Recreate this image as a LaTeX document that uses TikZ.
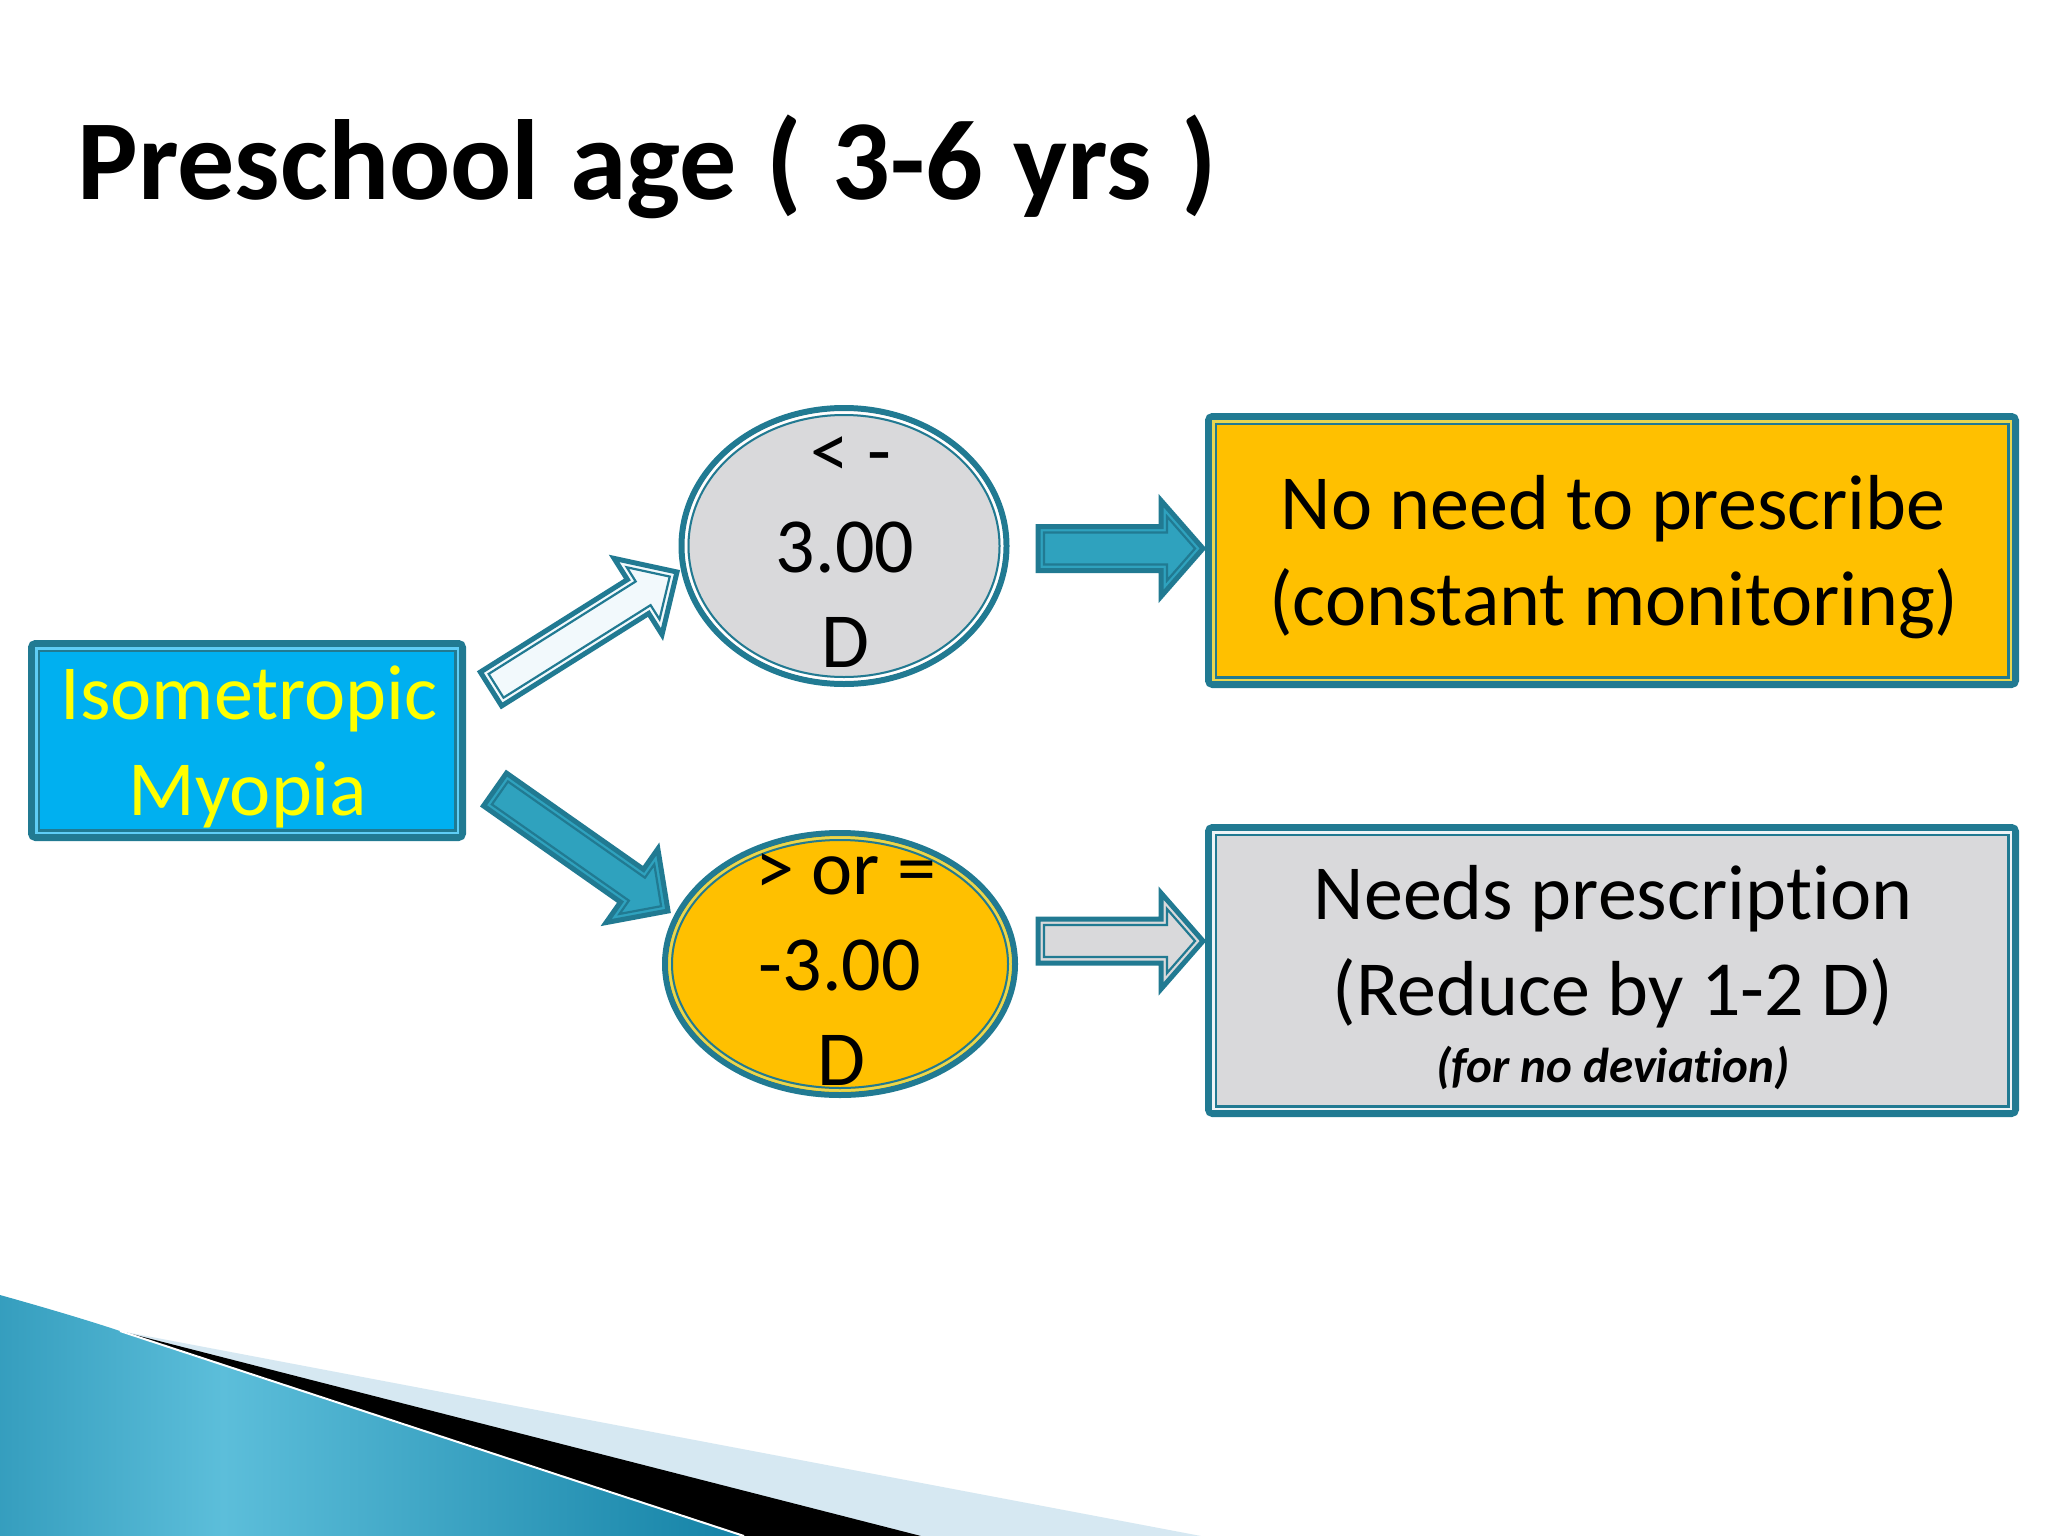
\documentclass[tikz,border=0pt]{standalone}
\usepackage{fontspec}
\setmainfont{Carlito}[Ligatures=NoCommon,RawFeature={-liga;-clig;-calt;-dlig}]
\newfontfamily\titlefam{Carlito}[Ligatures=NoCommon,WordSpace=1.17]
\usetikzlibrary{calc,shapes.geometric}
\definecolor{bordc}{RGB}{33,122,146}
\definecolor{arrowfill}{RGB}{47,162,190}
\definecolor{arrwhite}{RGB}{242,249,252}
\definecolor{cyanbox}{RGB}{0,176,240}
\definecolor{cyanlight}{RGB}{95,205,245}
\definecolor{goldbox}{RGB}{255,192,0}
\definecolor{goldlight}{RGB}{232,214,80}
\definecolor{graybox}{RGB}{217,217,219}
\definecolor{graylight}{RGB}{238,244,247}
\definecolor{yellowtxt}{RGB}{255,255,0}
\definecolor{bandlight}{RGB}{214,232,242}
\definecolor{swdark}{RGB}{8,100,132}
\definecolor{swlight}{RGB}{92,190,218}
\definecolor{swmid}{RGB}{20,130,166}
\pgfdeclarehorizontalshading{swoosh}{100bp}{color(0bp)=(swdark); color(12bp)=(swmid); color(40bp)=(swlight); color(75bp)=(swmid); color(100bp)=(swmid)}
\newcommand\bodyfont{\fontsize{78}{94}\selectfont}
\newcommand\titlefont{\titlefam\fontsize{114}{137}\selectfont\bfseries}
\newcommand\notefont{\fontsize{49}{59}\selectfont\bfseries\itshape}
\tikzset{
  bx/.style={draw=bordc, line width=7pt, rounded corners=4pt, inner sep=0pt, outer sep=0pt},
  ov/.style={ellipse, draw=bordc, line width=6pt, inner sep=0pt, outer sep=0pt},
  ln/.style={anchor=base, inner sep=0pt, outer sep=0pt, font=\bodyfont},
  arrb/.style={draw=bordc, line width=5pt, line join=miter},
  arri/.style={draw=bordc, line width=2.2pt, line join=miter},
}
\newcommand\boxlines[2]{%
  \draw[#2, line width=2.5pt] ([shift={(4.75,4.75)}]#1.north west) rectangle ([shift={(-4.75,-4.75)}]#1.south east);
  \draw[bordc, line width=2.5pt] ([shift={(7.25,7.25)}]#1.north west) rectangle ([shift={(-7.25,-7.25)}]#1.south east);
}
\newcommand\blockarrow[7]{%
  \pgfmathsetmacro\bL{sqrt((#5)*(#5)+(#4)*(#4))}%
  \pgfmathsetmacro\btb{6*\bL/(#4)}%
  \pgfmathsetmacro\bhi{(#4)-(#4)*6/(#5)-6*\bL/(#5)}%
  \pgfmathsetmacro\bwi{(#3)-6}%
  \coordinate (#7B) at ($(#2)!#5pt!(#1)$);
  \coordinate (#7Bi) at ($(#7B)!6pt!(#2)$);
  \coordinate (#7si) at ($(#1)!6pt!(#2)$);
  \coordinate (#7ei) at ($(#2)!\btb pt!(#1)$);
  \filldraw[arrb, fill=#6] ($(#1)!#3pt!90:(#2)$) -- ($(#7B)!#3pt!90:(#2)$) -- ($(#7B)!#4pt!90:(#2)$) -- (#2) -- ($(#7B)!#4pt!-90:(#2)$) -- ($(#7B)!#3pt!-90:(#2)$) -- ($(#1)!#3pt!-90:(#2)$) -- cycle;
  \draw[arri] ($(#7si)!\bwi pt!90:(#2)$) -- ($(#7Bi)!\bwi pt!90:(#2)$) -- ($(#7Bi)!\bhi pt!90:(#2)$) -- (#7ei) -- ($(#7Bi)!\bhi pt!-90:(#2)$) -- ($(#7Bi)!\bwi pt!-90:(#2)$) -- ($(#7si)!\bwi pt!-90:(#2)$) -- cycle;
}
\begin{document}
\begin{tikzpicture}[x=1pt,y=-1pt]
\useasboundingbox[fill=white] (0,0) rectangle (2048,1536);

% bottom-left swoosh
\fill[bandlight] (120,1331) -- (1201,1536) -- (0,1536) -- cycle;
\fill[black] (120,1331) -- (921,1536) -- (0,1536) -- cycle;
\shade[shading=swoosh] (0,1295) .. controls (50,1309) and (90,1321) .. (120,1331) -- (744,1536) -- (0,1536) -- cycle;
\draw[white, line width=2pt] (120,1331) -- (744,1536);

% title
\node[anchor=base west, inner sep=0pt, font=\titlefont] (title) at (77.5,199) {Preschool age ( 3-6 yrs )};

% boxes
\node[bx, fill=cyanbox, minimum width=431pt, minimum height=194pt] (iso) at (247,740.5) {};
\boxlines{iso}{cyanlight}
\node[bx, fill=goldbox, minimum width=807pt, minimum height=268pt] (nop) at (1612,550.5) {};
\boxlines{nop}{goldlight}
\node[bx, fill=graybox, minimum width=807pt, minimum height=286pt] (need) at (1612,970.5) {};
\boxlines{need}{graylight}

% ellipses
\node[ov, fill=graybox, minimum width=325pt, minimum height=276pt] (lt) at (844,546) {};
\draw[white, line width=2.5pt] (lt.center) ellipse [x radius=158pt, y radius=133.5pt];
\draw[bordc, line width=2pt] (lt.center) ellipse [x radius=155.5pt, y radius=131pt];
\node[ov, fill=goldbox, minimum width=350pt, minimum height=262pt] (ge) at (840,964) {};
\draw[goldlight, line width=2.5pt] (ge.center) ellipse [x radius=170.5pt, y radius=126.5pt];
\draw[bordc, line width=2pt] (ge.center) ellipse [x radius=168pt, y radius=124pt];

% block arrows
\coordinate (a1s) at (491,689);
\coordinate (a1e) at (677,572);
\blockarrow{a1s}{a1e}{20}{45}{46}{arrwhite}{a1}
\coordinate (a2s) at (495,789.5);
\coordinate (a2e) at (668,911);
\blockarrow{a2s}{a2e}{20}{45}{44}{arrowfill}{a2}
\coordinate (a3s) at (1038,548.5);
\coordinate (a3e) at (1203,548.5);
\blockarrow{a3s}{a3e}{22}{48}{42}{arrowfill}{a3}
\coordinate (a4s) at (1038,941);
\coordinate (a4e) at (1203,941);
\blockarrow{a4s}{a4e}{22}{48}{42}{graybox}{a4}

% texts
\node[ln, text=yellowtxt] (iso1) at (249,719) {Isometropic};
\node[ln, text=yellowtxt] (iso2) at (248,815) {Myopia};

\node[ln] (lt1) at (851,477) {< -};
\node[ln] (lt2) at (845,572) {3.00};
\node[ln] (lt3) at (845,667) {D};

\node[ln] (ge1) at (846,894) {> or =};
\node[ln] (ge2) at (840,990) {-3.00};
\node[ln] (ge3) at (841,1085) {D};

\node[ln] (nop1) at (1613,529) {No need to prescribe};
\node[ln] (nop2) at (1614,625) {(constant monitoring)};

\node[ln] (need1) at (1613,919) {Needs prescript\kern0pt ion};
\node[ln] (need2) at (1613,1015) {(Reduce by 1-2 D)};
\node[anchor=base, inner sep=0pt, font=\notefont] (need3) at (1613,1082) {(for no deviat\kern0pt ion)};
\end{tikzpicture}
\end{document}
